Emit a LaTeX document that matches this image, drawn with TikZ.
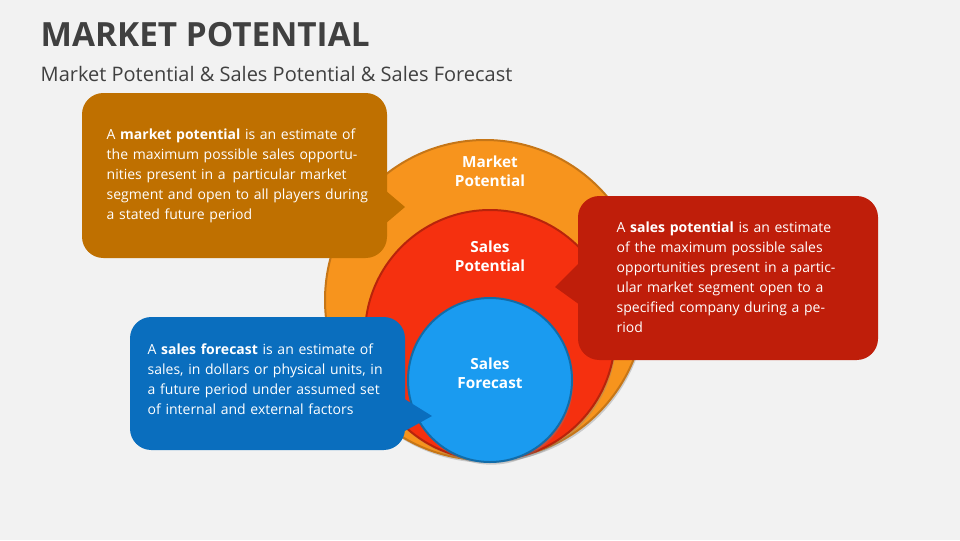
\documentclass[tikz,border=0pt]{standalone}
\usepackage{fontspec}
\setmainfont{Open Sans}
\usetikzlibrary{positioning,shadows}
\definecolor{mporange}{HTML}{F7941D}
\definecolor{spred}{HTML}{F5300F}
\definecolor{sfblue}{HTML}{1A9BF0}
\definecolor{boxorange}{HTML}{BF7000}
\definecolor{boxred}{HTML}{BF1E0A}
\definecolor{boxblue}{HTML}{0A6EBE}
\definecolor{titlegray}{HTML}{404040}
\tikzset{
  ring/.style={line width=1.5pt, drop shadow={opacity=0.35,shadow xshift=1pt,shadow yshift=-2pt}},
  circlabel/.style={text=white, font=\bfseries\fontsize{11.5}{14}\selectfont, align=center},
  boxtext/.style={text=white, font=\fontsize{10.5}{15}\selectfont, align=left, anchor=north west},
}
\begin{document}
\begin{tikzpicture}[x=0.75pt,y=-0.75pt]
    % fond
    \fill[gray!10] (0,0) rectangle (960,540);
    \useasboundingbox (0,0) rectangle (960,540);

    % titres
    \node[anchor=west, text=titlegray, font=\bfseries\fontsize{25}{30}\selectfont] (title) at (36,35) {MARKET POTENTIAL};
    \node[anchor=west, text=titlegray, font=\fontsize{15}{18}\selectfont] (subtitle) at (36,74) {Market Potential \& Sales Potential \& Sales Forecast};

    % cercles
    \filldraw[ring, fill=mporange, draw=mporange!80!black] (485,300) circle (160);
    \filldraw[ring, fill=spred, draw=spred!75!black] (490,335) circle (125);
    \filldraw[ring, fill=sfblue, draw=sfblue!70!black] (490,380) circle (82);
    \node[circlabel] (mp) at (490,171) {Market\\Potential};
    \node[circlabel] (sp) at (490,256) {Sales\\Potential};
    \node[circlabel] (sf) at (490,373) {Sales\\Forecast};

    % bulles
    \fill[boxorange, rounded corners=16] (82,93) rectangle (387,258);
    \fill[boxorange] (385,190) -- (405,207) -- (385,224) -- cycle;
    \node[boxtext, text width=200pt] (mptext) at (102,124) {A \textbf{market potential} is an estimate of the maximum possible sales opportunities present in a\, particular market segment and open to all players during a stated future period};

    \fill[boxred, rounded corners=16] (578,196) rectangle (878,360);
    \fill[boxred] (580,262) -- (555,287) -- (580,305) -- cycle;
    \node[boxtext, text width=170pt] (sptext) at (612,217) {A \textbf{sales potential} is an estimate of the maximum possible sales opportunities present in a particular market segment open to a\, specified company during a period};

    \fill[boxblue, rounded corners=16] (130,317) rectangle (405,450);
    \fill[boxblue] (403,398) -- (432,416) -- (403,432) -- cycle;
    \node[boxtext, text width=185pt] (sftext) at (143,339) {A \textbf{sales forecast} is an estimate of sales, in dollars or physical units, in a future period under assumed set of internal and external factors};
\end{tikzpicture}
\end{document}
